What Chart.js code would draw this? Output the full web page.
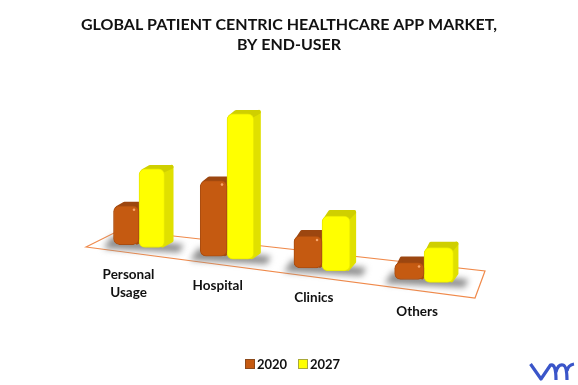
<!DOCTYPE html>
<html>
<head>
<meta charset="utf-8">
<title>Global Patient Centric Healthcare App Market</title>
<script src="https://cdn.jsdelivr.net/npm/chart.js@4/dist/chart.umd.js"></script>
<style>
  html, body { margin: 0; padding: 0; background: #fff; }
  #wrap { width: 578px; height: 385px; }
</style>
</head>
<body>
<div id="wrap"><canvas id="chart" width="578" height="385"></canvas></div>
<script>
const categories = ['Personal Usage', 'Hospital', 'Clinics', 'Others'];
const seriesNames = ['2020', '2027'];
const values2020 = [39, 76, 32, 17];
const values2027 = [79, 146, 55, 35];

// the picture is a tilted 3D floor: each bar stands a bit lower the further right it is
function floorAt(i, s) {
    return 103 - 11.7 * i - 3 * s;
}
function floating(values, s) {
    return values.map((v, i) => [floorAt(i, s), floorAt(i, s) + v]);
}

// category scale with the spacing widening towards the viewer
class DepthScale extends Chart.CategoryScale {
    getPixelForValue(value, index) {
        const i = typeof value === 'number' ? value : index;
        return this.left + this.width * (0.2405 + 0.1462 * i + 0.00606 * i * i);
    }
}
DepthScale.id = 'depth';
DepthScale.defaults = Chart.CategoryScale.defaults;
Chart.register(DepthScale);

const faces = [
    { side: '#a94c0e', cap: '#9c4610', spot: '#f8a56a' },
    { side: '#e0e000', cap: '#cfcf00', spot: null }
];
const sideShift = [9, 7, 6, 5];
const capRise = [5, 5, 7, 7];
const labelDrop = [284, 286, 298, 312];

function poly(ctx, pts) {
    ctx.beginPath();
    pts.forEach((p, n) => n ? ctx.lineTo(p[0], p[1]) : ctx.moveTo(p[0], p[1]));
    ctx.closePath();
}

const scene = {
    id: 'scene',
    afterDatasetsUpdate(chart) {
        // bars get slightly wider with depth, and stay side by side
        const x = chart.scales.x;
        [0, 1].forEach(s => {
            chart.getDatasetMeta(s).data.forEach((bar, i) => {
                const w = 25.5 + 1.3 * i;
                bar.width = w;
                bar.x = x.getPixelForValue(i) + (s ? w / 2 : -w / 2);
            });
        });
    },
    beforeDatasetsDraw(chart) {
        const ctx = chart.ctx;
        const low = chart.getDatasetMeta(0).data;
        const high = chart.getDatasetMeta(1).data;

        // floor
        ctx.save();
        ctx.strokeStyle = '#f08a4b';
        ctx.lineWidth = 1.2;
        poly(ctx, [[86, 247], [120, 230], [485, 271], [475, 298]]);
        ctx.stroke();
        ctx.restore();

        // soft shadows on the floor
        ctx.save();
        ctx.filter = 'blur(3px)';
        ctx.fillStyle = '#8e8e8e';
        low.forEach((bar, i) => {
            const l = bar.x - bar.width / 2 - 10;
            const r = high[i].x + high[i].width / 2 + sideShift[i] + 10;
            const b = high[i].base;
            poly(ctx, [[l + 8, b - 11], [r, b - 3], [r - 4, b + 5], [l, b + 1]]);
            ctx.fill();
        });
        ctx.restore();

        // side and top faces sit behind the front faces the library draws
        [low, high].forEach((bars, s) => {
            bars.forEach((bar, i) => {
                const l = bar.x - bar.width / 2 + 2;
                const r = bar.x + bar.width / 2 - 2;
                const t = bar.y + 2;
                const b = bar.base - 2;
                const dx = sideShift[i];
                const dy = capRise[i];
                ctx.save();
                ctx.lineJoin = 'round';
                ctx.lineWidth = 4;
                ctx.fillStyle = ctx.strokeStyle = faces[s].side;
                poly(ctx, [[r, t], [r + dx, t - dy + 1], [r + dx, b - dy], [r, b]]);
                ctx.fill();
                ctx.stroke();
                ctx.fillStyle = ctx.strokeStyle = faces[s].cap;
                poly(ctx, [[l + 2, t], [l + dx, t - dy + 1], [r + dx, t - dy + 1], [r, t]]);
                ctx.fill();
                ctx.stroke();
                ctx.restore();
            });
        });
    },
    afterDatasetsDraw(chart) {
        const ctx = chart.ctx;
        chart.getDatasetMeta(0).data.forEach(bar => {
            ctx.save();
            ctx.fillStyle = faces[0].spot;
            ctx.filter = 'blur(0.6px)';
            ctx.beginPath();
            ctx.arc(bar.x + bar.width / 2 - 5, bar.y + 4, 1.3, 0, Math.PI * 2);
            ctx.fill();
            ctx.restore();
        });
    },
    afterDraw(chart) {
        const ctx = chart.ctx;
        const x = chart.scales.x;
        ctx.save();
        ctx.fillStyle = '#111';
        ctx.font = 'bold 13.5px Lato';
        ctx.textAlign = 'center';
        ctx.textBaseline = 'middle';
        categories.forEach((name, i) => {
            const px = x.getPixelForValue(i) - 10.5 + 1.2 * i;
            const words = name.split(' ');
            words.forEach((w, n) => {
                ctx.fillText(w, px, labelDrop[i] + (n - (words.length - 1) / 2) * 18);
            });
        });

        // legend, tighter than the stock one
        ctx.font = 'bold 13px Lato';
        ctx.textAlign = 'left';
        seriesNames.forEach((name, s) => {
            const ds = chart.data.datasets[s];
            const left = 245 + 53 * s;
            ctx.fillStyle = ds.backgroundColor;
            ctx.strokeStyle = s ? '#a9a93a' : '#8c4a1c';
            ctx.lineWidth = 1;
            ctx.fillRect(left + 0.5, 359.5, 9, 9);
            ctx.strokeRect(left + 0.5, 359.5, 9, 9);
            ctx.fillStyle = '#111';
            ctx.fillText(name, left + 12, 364.5);
        });

        // vmr mark, bottom right
        ctx.strokeStyle = '#3a55c9';
        ctx.lineWidth = 3.2;
        ctx.lineCap = 'butt';
        ctx.lineJoin = 'round';
        ctx.beginPath();
        ctx.moveTo(530.5, 364);
        ctx.lineTo(541, 379);
        ctx.lineTo(550.5, 365);
        ctx.quadraticCurveTo(556, 363, 556, 380);
        ctx.moveTo(556, 372);
        ctx.quadraticCurveTo(558, 364, 563, 365);
        ctx.quadraticCurveTo(567, 366, 567, 380);
        ctx.moveTo(567, 371);
        ctx.quadraticCurveTo(568, 365, 574, 364);
        ctx.stroke();
        ctx.restore();
    }
};

new Chart(document.getElementById('chart'), {
    type: 'bar',
    data: {
        labels: categories,
        datasets: [
            {
                label: seriesNames[0],
                data: floating(values2020, 0),
                backgroundColor: '#c55a11',
                borderColor: '#a84c10',
                borderWidth: 1,
                borderSkipped: false,
                borderRadius: 6,
                barThickness: 26
            },
            {
                label: seriesNames[1],
                data: floating(values2027, 1),
                backgroundColor: '#ffff00',
                borderColor: '#e8e800',
                borderWidth: 1,
                borderSkipped: false,
                borderRadius: 6,
                barThickness: 26
            }
        ]
    },
    options: {
        responsive: false,
        animation: false,
        layout: { padding: { bottom: 38 } },
        scales: {
            x: { type: 'depth', display: false, offset: true },
            y: { display: false, min: 0, max: 283 }
        },
        plugins: {
            title: {
                display: true,
                text: ['GLOBAL PATIENT CENTRIC HEALTHCARE APP MARKET,', 'BY END-USER'],
                color: '#111',
                font: { family: 'Lato', weight: 'bold', size: 16, lineHeight: 1.3 },
                padding: { top: 14, bottom: 9.9 }
            },
            legend: { display: false },
            tooltip: { enabled: false }
        }
    },
    plugins: [scene]
});
</script>
</body>
</html>
